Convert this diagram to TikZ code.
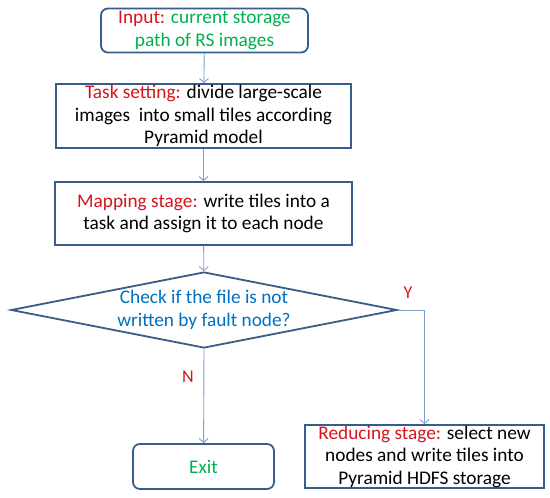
\documentclass[tikz,border=0pt]{standalone}
\usepackage{fontspec}
\setmainfont{Carlito}
\usetikzlibrary{arrows.meta, shapes.geometric}

\definecolor{boxblue}{RGB}{56,93,138}
\definecolor{linkblue}{RGB}{125,160,205}
\definecolor{headred}{RGB}{215,20,30}
\definecolor{txtgreen}{RGB}{0,176,80}
\definecolor{qblue}{RGB}{0,112,192}

\begin{document}
\begin{tikzpicture}[x=1pt, y=-1pt, >={Straight Barb[length=4pt,width=9pt]},
    font=\fontsize{19.3}{22.5}\selectfont]
    \tikzstyle{step box} = [rectangle, draw=boxblue, line width=1.8pt, align=center, inner sep=0pt]
    \tikzstyle{term box} = [step box, rounded corners=7pt]
    \tikzstyle{decision} = [diamond, draw=boxblue, line width=1.8pt, inner sep=0pt,
        minimum width=386pt, minimum height=76pt]
    \tikzstyle{link} = [->, draw=linkblue, line width=0.9pt]
    \tikzstyle{mark label} = [text=headred, font=\fontsize{18}{20}\selectfont]

    \useasboundingbox (0,0) rectangle (550,498);

    % Define nodes
    \node[term box, minimum width=207pt, minimum height=44pt] (input) at (204.5,30.5)
        {\textcolor{headred}{Input:} \textcolor{txtgreen}{current storage}\\
         \textcolor{txtgreen}{path of RS images}};
    \node[step box, minimum width=295pt, minimum height=64pt] (task) at (203.5,116)
        {\textcolor{headred}{Task setting:} divide large-scale\\
         images\ \ into small tiles according\\Pyramid model};
    \node[step box, minimum width=297pt, minimum height=63pt] (map) at (203.5,213.5)
        {\textcolor{headred}{Mapping stage:} write tiles into a\\
         task and assign it to each node};
    \node[decision] (check) at (204,310) {};
    \node[text=qblue, align=center] (checktext) at (check.center)
        {Check if the file is not\\written by fault node?};
    \node[term box, minimum width=141pt, minimum height=45pt] (exit) at (203.5,466.5)
        {\textcolor{txtgreen}{Exit}};
    \node[step box, minimum width=239pt, minimum height=63pt] (reduce) at (424.5,456.5)
        {\textcolor{headred}{Reducing stage:} select new\\
         nodes and write tiles into\\Pyramid HDFS storage};

    % Labels
    \node[mark label] (yes) at (408,293) {Y};
    \node[mark label] (no) at (188,377) {N};

    % Draw edges
    \draw[link] (input) -- (task);
    \draw[link] (task) -- (map);
    \draw[link] (map) -- (check);
    \draw[link] (check.south) -- (exit);
    \draw[link] (check.east) -| (reduce.north);
\end{tikzpicture}
\end{document}
